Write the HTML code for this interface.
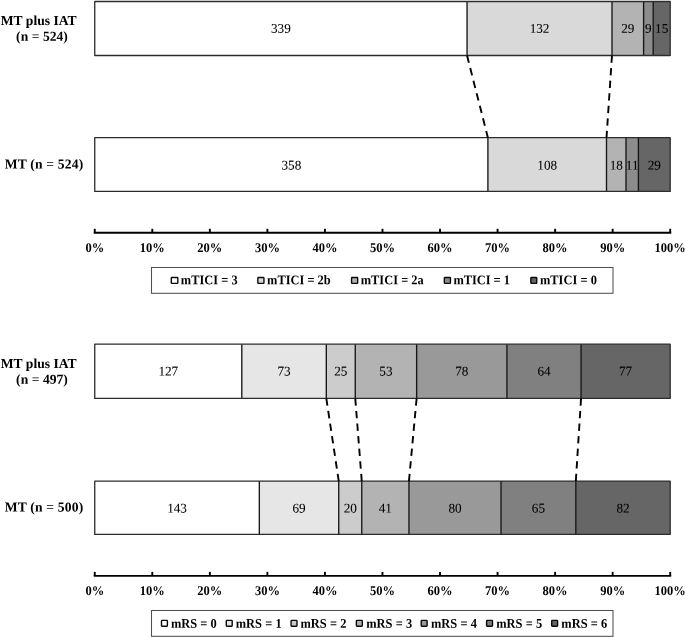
<!DOCTYPE html>
<html lang="en"><head><meta charset="utf-8"><title>mTICI and mRS distribution</title>
<style>
html,body{margin:0;padding:0;background:#fff;}
svg{display:block;}
text{font-family:"Liberation Serif",serif;text-rendering:geometricPrecision;}
.lab{font-size:13.6px;font-weight:bold;fill:#000;}
.ax{font-size:13.3px;font-weight:bold;fill:#000;text-anchor:middle;}
.lg{font-size:13.2px;font-weight:bold;fill:#000;}
.dv{font-size:13.2px;fill:#000;stroke:#000;stroke-width:0.06px;text-anchor:middle;}
.bar{stroke:#2c2c2c;stroke-width:1.3;stroke-linejoin:round;}
.sep{stroke:#161616;stroke-width:1.35;}
.dash{stroke:#000;stroke-width:1.9;fill:none;}
.axis{stroke:#000;stroke-width:1.85;fill:none;}
.tick{stroke:#000;stroke-width:1.9;fill:none;}
.lbox{fill:#fff;stroke:#505050;stroke-width:1.05;}
.mk{stroke:#0a0a0a;stroke-width:1.4;}
</style></head><body>
<svg width="685" height="637" viewBox="0 0 685 637">
<rect x="0" y="0" width="685" height="637" fill="#fff"/>
<rect x="94.75" y="1.5" width="372.29" height="54.00" fill="#ffffff"/>
<rect x="467.04" y="1.5" width="144.96" height="54.00" fill="#d9d9d9"/>
<rect x="612.00" y="1.5" width="31.60" height="54.00" fill="#b3b3b3"/>
<rect x="643.60" y="1.5" width="9.60" height="54.00" fill="#8c8c8c"/>
<rect x="653.20" y="1.5" width="17.00" height="54.00" fill="#666666"/>
<line class="sep" x1="467.04" y1="1.5" x2="467.04" y2="55.5"/>
<line class="sep" x1="612.00" y1="1.5" x2="612.00" y2="55.5"/>
<line class="sep" x1="643.60" y1="1.5" x2="643.60" y2="55.5"/>
<line class="sep" x1="653.20" y1="1.5" x2="653.20" y2="55.5"/>
<rect class="bar" x="94.75" y="1.5" width="575.45" height="54.00" fill="none"/>
<text class="dv" transform="translate(280.89 32.80) rotate(0.03)">339</text>
<text class="dv" transform="translate(539.52 32.80) rotate(0.03)">132</text>
<text class="dv" transform="translate(627.80 32.80) rotate(0.03)">29</text>
<text class="dv" transform="translate(648.40 32.80) rotate(0.03)">9</text>
<text class="dv" transform="translate(661.70 32.80) rotate(0.03)">15</text>
<rect x="94.75" y="137.7" width="393.15" height="53.70" fill="#ffffff"/>
<rect x="487.90" y="137.7" width="118.60" height="53.70" fill="#d9d9d9"/>
<rect x="606.51" y="137.7" width="19.49" height="53.70" fill="#b3b3b3"/>
<rect x="626.00" y="137.7" width="12.40" height="53.70" fill="#8c8c8c"/>
<rect x="638.40" y="137.7" width="31.80" height="53.70" fill="#666666"/>
<line class="sep" x1="487.90" y1="137.7" x2="487.90" y2="191.4"/>
<line class="sep" x1="606.51" y1="137.7" x2="606.51" y2="191.4"/>
<line class="sep" x1="626.00" y1="137.7" x2="626.00" y2="191.4"/>
<line class="sep" x1="638.40" y1="137.7" x2="638.40" y2="191.4"/>
<rect class="bar" x="94.75" y="137.7" width="575.45" height="53.70" fill="none"/>
<text class="dv" transform="translate(291.33 169.55) rotate(0.03)">358</text>
<text class="dv" transform="translate(547.20 169.55) rotate(0.03)">108</text>
<text class="dv" transform="translate(616.25 169.55) rotate(0.03)">18</text>
<text class="dv" transform="translate(632.20 169.55) rotate(0.03)">11</text>
<text class="dv" transform="translate(654.30 169.55) rotate(0.03)">29</text>
<line class="dash" stroke-dasharray="7.53 5.44" x1="467.04" y1="55.50" x2="487.90" y2="137.70"/>
<line class="dash" stroke-dasharray="7.32 5.28" x1="612.00" y1="55.50" x2="606.51" y2="137.70"/>
<text class="lab" transform="translate(0.7 25) rotate(0.03)" textLength="76" lengthAdjust="spacing">MT plus IAT</text>
<text class="lab" transform="translate(16.1 40.8) rotate(0.03)" textLength="51.8" lengthAdjust="spacing">(n = 524)</text>
<text class="lab" transform="translate(4.8 168.5) rotate(0.03)" textLength="78.4" lengthAdjust="spacing">MT (n = 524)</text>
<line class="axis" x1="93.75" y1="232.7" x2="671.20" y2="232.7"/>
<line class="tick" x1="94.75" y1="232.7" x2="94.75" y2="228.80"/>
<text class="ax" transform="translate(94.75 251.9) rotate(0.03) scale(0.94 1)">0%</text>
<line class="tick" x1="152.30" y1="232.7" x2="152.30" y2="228.80"/>
<text class="ax" transform="translate(152.30 251.9) rotate(0.03) scale(0.94 1)">10%</text>
<line class="tick" x1="209.84" y1="232.7" x2="209.84" y2="228.80"/>
<text class="ax" transform="translate(209.84 251.9) rotate(0.03) scale(0.94 1)">20%</text>
<line class="tick" x1="267.38" y1="232.7" x2="267.38" y2="228.80"/>
<text class="ax" transform="translate(267.38 251.9) rotate(0.03) scale(0.94 1)">30%</text>
<line class="tick" x1="324.93" y1="232.7" x2="324.93" y2="228.80"/>
<text class="ax" transform="translate(324.93 251.9) rotate(0.03) scale(0.94 1)">40%</text>
<line class="tick" x1="382.48" y1="232.7" x2="382.48" y2="228.80"/>
<text class="ax" transform="translate(382.48 251.9) rotate(0.03) scale(0.94 1)">50%</text>
<line class="tick" x1="440.02" y1="232.7" x2="440.02" y2="228.80"/>
<text class="ax" transform="translate(440.02 251.9) rotate(0.03) scale(0.94 1)">60%</text>
<line class="tick" x1="497.56" y1="232.7" x2="497.56" y2="228.80"/>
<text class="ax" transform="translate(497.56 251.9) rotate(0.03) scale(0.94 1)">70%</text>
<line class="tick" x1="555.11" y1="232.7" x2="555.11" y2="228.80"/>
<text class="ax" transform="translate(555.11 251.9) rotate(0.03) scale(0.94 1)">80%</text>
<line class="tick" x1="612.66" y1="232.7" x2="612.66" y2="228.80"/>
<text class="ax" transform="translate(612.66 251.9) rotate(0.03) scale(0.94 1)">90%</text>
<line class="tick" x1="670.20" y1="232.7" x2="670.20" y2="228.80"/>
<text class="ax" transform="translate(670.20 251.9) rotate(0.03) scale(0.94 1)">100%</text>
<rect class="lbox" x="151.5" y="267.5" width="461.5" height="25.80000000000001"/>
<rect class="mk" x="171.30" y="277.55" width="6.5" height="5.8" rx="0.6" fill="#ffffff"/>
<text class="lg" transform="translate(180.80 284.3) rotate(0.03) scale(0.94 1)" textLength="60.64" lengthAdjust="spacing">mTICI = 3</text>
<rect class="mk" x="257.85" y="277.55" width="6.1" height="5.8" rx="0.6" fill="#d9d9d9"/>
<text class="lg" transform="translate(267.10 284.3) rotate(0.03) scale(0.94 1)" textLength="67.66" lengthAdjust="spacing">mTICI = 2b</text>
<rect class="mk" x="351.55" y="277.55" width="6.1" height="5.8" rx="0.6" fill="#b3b3b3"/>
<text class="lg" transform="translate(360.70 284.3) rotate(0.03) scale(0.94 1)" textLength="67.13" lengthAdjust="spacing">mTICI = 2a</text>
<rect class="mk" x="444.35" y="277.55" width="6.1" height="5.8" rx="0.6" fill="#8c8c8c"/>
<text class="lg" transform="translate(453.40 284.3) rotate(0.03) scale(0.94 1)" textLength="60.11" lengthAdjust="spacing">mTICI = 1</text>
<rect class="mk" x="530.85" y="277.55" width="5.9" height="5.8" rx="0.6" fill="#666666"/>
<text class="lg" transform="translate(539.90 284.3) rotate(0.03) scale(0.94 1)" textLength="60.64" lengthAdjust="spacing">mTICI = 0</text>
<rect x="94.75" y="344.2" width="147.05" height="54.20" fill="#ffffff"/>
<rect x="241.80" y="344.2" width="84.52" height="54.20" fill="#e6e6e6"/>
<rect x="326.32" y="344.2" width="28.95" height="54.20" fill="#cccccc"/>
<rect x="355.27" y="344.2" width="61.37" height="54.20" fill="#b3b3b3"/>
<rect x="416.63" y="344.2" width="90.31" height="54.20" fill="#999999"/>
<rect x="506.94" y="344.2" width="74.10" height="54.20" fill="#808080"/>
<rect x="581.05" y="344.2" width="89.15" height="54.20" fill="#666666"/>
<line class="sep" x1="241.80" y1="344.2" x2="241.80" y2="398.4"/>
<line class="sep" x1="326.32" y1="344.2" x2="326.32" y2="398.4"/>
<line class="sep" x1="355.27" y1="344.2" x2="355.27" y2="398.4"/>
<line class="sep" x1="416.63" y1="344.2" x2="416.63" y2="398.4"/>
<line class="sep" x1="506.94" y1="344.2" x2="506.94" y2="398.4"/>
<line class="sep" x1="581.05" y1="344.2" x2="581.05" y2="398.4"/>
<rect class="bar" x="94.75" y="344.2" width="575.45" height="54.20" fill="none"/>
<text class="dv" transform="translate(168.27 375.60) rotate(0.03)">127</text>
<text class="dv" transform="translate(284.06 375.60) rotate(0.03)">73</text>
<text class="dv" transform="translate(340.79 375.60) rotate(0.03)">25</text>
<text class="dv" transform="translate(385.95 375.60) rotate(0.03)">53</text>
<text class="dv" transform="translate(461.79 375.60) rotate(0.03)">78</text>
<text class="dv" transform="translate(543.99 375.60) rotate(0.03)">64</text>
<text class="dv" transform="translate(625.62 375.60) rotate(0.03)">77</text>
<rect x="94.75" y="481.1" width="164.58" height="53.30" fill="#ffffff"/>
<rect x="259.33" y="481.1" width="79.41" height="53.30" fill="#e6e6e6"/>
<rect x="338.74" y="481.1" width="23.02" height="53.30" fill="#cccccc"/>
<rect x="361.76" y="481.1" width="47.19" height="53.30" fill="#b3b3b3"/>
<rect x="408.95" y="481.1" width="92.07" height="53.30" fill="#999999"/>
<rect x="501.02" y="481.1" width="74.81" height="53.30" fill="#808080"/>
<rect x="575.83" y="481.1" width="94.37" height="53.30" fill="#666666"/>
<line class="sep" x1="259.33" y1="481.1" x2="259.33" y2="534.4"/>
<line class="sep" x1="338.74" y1="481.1" x2="338.74" y2="534.4"/>
<line class="sep" x1="361.76" y1="481.1" x2="361.76" y2="534.4"/>
<line class="sep" x1="408.95" y1="481.1" x2="408.95" y2="534.4"/>
<line class="sep" x1="501.02" y1="481.1" x2="501.02" y2="534.4"/>
<line class="sep" x1="575.83" y1="481.1" x2="575.83" y2="534.4"/>
<rect class="bar" x="94.75" y="481.1" width="575.45" height="53.30" fill="none"/>
<text class="dv" transform="translate(177.04 512.50) rotate(0.03)">143</text>
<text class="dv" transform="translate(299.03 512.50) rotate(0.03)">69</text>
<text class="dv" transform="translate(350.25 512.50) rotate(0.03)">20</text>
<text class="dv" transform="translate(385.35 512.50) rotate(0.03)">41</text>
<text class="dv" transform="translate(454.98 512.50) rotate(0.03)">80</text>
<text class="dv" transform="translate(538.42 512.50) rotate(0.03)">65</text>
<text class="dv" transform="translate(623.01 512.50) rotate(0.03)">82</text>
<line class="dash" stroke-dasharray="7.38 5.33" x1="326.32" y1="398.40" x2="338.74" y2="481.10"/>
<line class="dash" stroke-dasharray="7.32 5.29" x1="355.27" y1="398.40" x2="361.76" y2="481.10"/>
<line class="dash" stroke-dasharray="7.33 5.29" x1="416.63" y1="398.40" x2="408.95" y2="481.10"/>
<line class="dash" stroke-dasharray="7.31 5.28" x1="581.05" y1="398.40" x2="575.83" y2="481.10"/>
<text class="lab" transform="translate(0.7 368) rotate(0.03)" textLength="76" lengthAdjust="spacing">MT plus IAT</text>
<text class="lab" transform="translate(16.1 383.8) rotate(0.03)" textLength="51.8" lengthAdjust="spacing">(n = 497)</text>
<text class="lab" transform="translate(4.8 511.5) rotate(0.03)" textLength="78.4" lengthAdjust="spacing">MT (n = 500)</text>
<line class="axis" x1="93.75" y1="575.8" x2="671.20" y2="575.8"/>
<line class="tick" x1="94.75" y1="575.8" x2="94.75" y2="571.90"/>
<text class="ax" transform="translate(94.75 594.9) rotate(0.03) scale(0.94 1)">0%</text>
<line class="tick" x1="152.30" y1="575.8" x2="152.30" y2="571.90"/>
<text class="ax" transform="translate(152.30 594.9) rotate(0.03) scale(0.94 1)">10%</text>
<line class="tick" x1="209.84" y1="575.8" x2="209.84" y2="571.90"/>
<text class="ax" transform="translate(209.84 594.9) rotate(0.03) scale(0.94 1)">20%</text>
<line class="tick" x1="267.38" y1="575.8" x2="267.38" y2="571.90"/>
<text class="ax" transform="translate(267.38 594.9) rotate(0.03) scale(0.94 1)">30%</text>
<line class="tick" x1="324.93" y1="575.8" x2="324.93" y2="571.90"/>
<text class="ax" transform="translate(324.93 594.9) rotate(0.03) scale(0.94 1)">40%</text>
<line class="tick" x1="382.48" y1="575.8" x2="382.48" y2="571.90"/>
<text class="ax" transform="translate(382.48 594.9) rotate(0.03) scale(0.94 1)">50%</text>
<line class="tick" x1="440.02" y1="575.8" x2="440.02" y2="571.90"/>
<text class="ax" transform="translate(440.02 594.9) rotate(0.03) scale(0.94 1)">60%</text>
<line class="tick" x1="497.56" y1="575.8" x2="497.56" y2="571.90"/>
<text class="ax" transform="translate(497.56 594.9) rotate(0.03) scale(0.94 1)">70%</text>
<line class="tick" x1="555.11" y1="575.8" x2="555.11" y2="571.90"/>
<text class="ax" transform="translate(555.11 594.9) rotate(0.03) scale(0.94 1)">80%</text>
<line class="tick" x1="612.66" y1="575.8" x2="612.66" y2="571.90"/>
<text class="ax" transform="translate(612.66 594.9) rotate(0.03) scale(0.94 1)">90%</text>
<line class="tick" x1="670.20" y1="575.8" x2="670.20" y2="571.90"/>
<text class="ax" transform="translate(670.20 594.9) rotate(0.03) scale(0.94 1)">100%</text>
<rect class="lbox" x="151.5" y="610.5" width="461.5" height="25.799999999999955"/>
<rect class="mk" x="161.50" y="620.40" width="5.9" height="5.8" rx="0.6" fill="#ffffff"/>
<text class="lg" transform="translate(170.90 627.7) rotate(0.03) scale(0.94 1)" textLength="48.83" lengthAdjust="spacing">mRS = 0</text>
<rect class="mk" x="226.30" y="620.40" width="5.9" height="5.8" rx="0.6" fill="#e6e6e6"/>
<text class="lg" transform="translate(235.70 627.7) rotate(0.03) scale(0.94 1)" textLength="48.83" lengthAdjust="spacing">mRS = 1</text>
<rect class="mk" x="291.10" y="620.40" width="5.9" height="5.8" rx="0.6" fill="#cccccc"/>
<text class="lg" transform="translate(300.50 627.7) rotate(0.03) scale(0.94 1)" textLength="48.83" lengthAdjust="spacing">mRS = 2</text>
<rect class="mk" x="356.40" y="620.40" width="5.9" height="5.8" rx="0.6" fill="#b3b3b3"/>
<text class="lg" transform="translate(366.20 627.7) rotate(0.03) scale(0.94 1)" textLength="48.83" lengthAdjust="spacing">mRS = 3</text>
<rect class="mk" x="421.20" y="620.40" width="5.9" height="5.8" rx="0.6" fill="#999999"/>
<text class="lg" transform="translate(431.00 627.7) rotate(0.03) scale(0.94 1)" textLength="48.83" lengthAdjust="spacing">mRS = 4</text>
<rect class="mk" x="486.60" y="620.40" width="5.9" height="5.8" rx="0.6" fill="#808080"/>
<text class="lg" transform="translate(496.20 627.7) rotate(0.03) scale(0.94 1)" textLength="48.83" lengthAdjust="spacing">mRS = 5</text>
<rect class="mk" x="551.70" y="620.40" width="5.9" height="5.8" rx="0.6" fill="#666666"/>
<text class="lg" transform="translate(561.30 627.7) rotate(0.03) scale(0.94 1)" textLength="48.83" lengthAdjust="spacing">mRS = 6</text>
</svg>
</body></html>
